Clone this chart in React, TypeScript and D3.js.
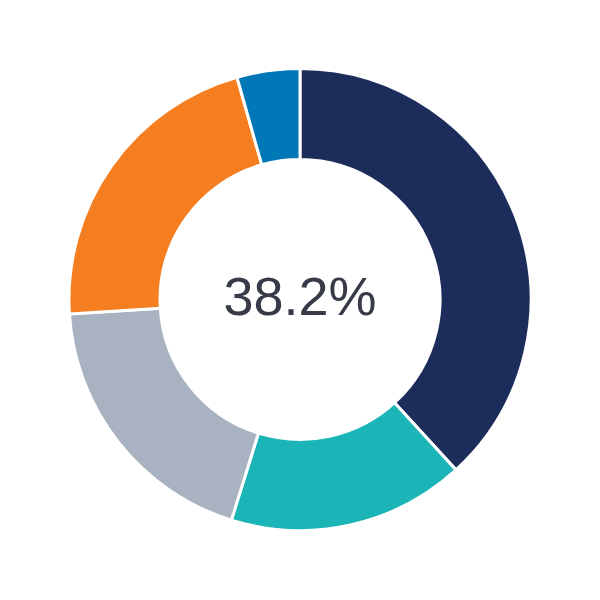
import React from "react";
import * as d3 from "d3";

const labels = ["Navy", "Teal", "Gray", "Orange", "Blue"];
const values = [38.2, 16.6, 19.2, 21.6, 4.4];
const colors = ["#1c2c5b", "#1bb4b7", "#a8b2c1", "#f47e20", "#0077b6"];
const centerLabel = "38.2%";

export default function App() {
  const width = 600;
  const height = 600;
  const cx = 300;
  const cy = 299.5;
  const outerR = 231;
  const innerR = 140;

  const data = labels.map((l, i) => ({ label: l, value: values[i], color: colors[i] }));
  const pie = d3.pie<any>().value((d: any) => d.value).sort(null);
  const arc = d3.arc<any>().innerRadius(innerR).outerRadius(outerR);
  const arcs = pie(data);

  return (
    <svg
      width={width}
      height={height}
      style={{ position: "absolute", left: 0, top: 0, background: "#fff" }}
    >
      <g transform={`translate(${cx},${cy})`}>
        {arcs.map((a, i) => (
          <path key={i} d={arc(a) as string} fill={a.data.color} stroke="#fff" strokeWidth={3} />
        ))}
        <text
          x={0}
          y={15.5}
          textAnchor="middle"
          fontFamily="'Liberation Sans', Arial, sans-serif"
          fontSize={54}
          fill="#363b47"
        >
          {centerLabel}
        </text>
      </g>
    </svg>
  );
}
